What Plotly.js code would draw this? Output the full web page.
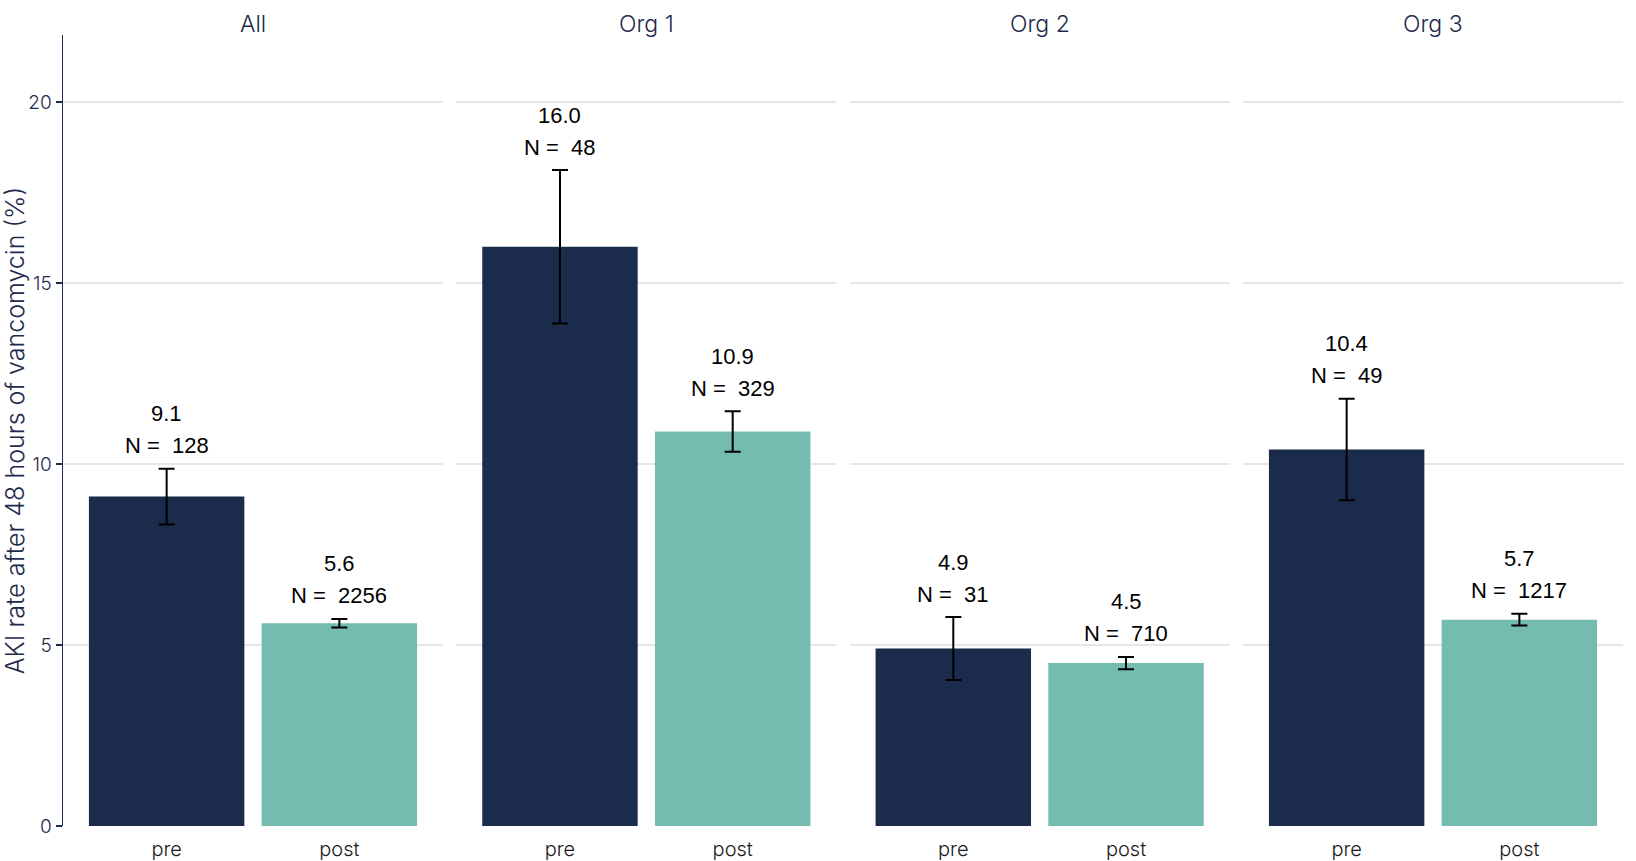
<!DOCTYPE html>
<html>
<head>
<meta charset="utf-8">
<script src="https://cdn.plot.ly/plotly-3.0.1.min.js"></script>
<style>
  html, body { margin: 0; padding: 0; background: #ffffff; }
  #chart { width: 1636px; height: 861px; }
</style>
</head>
<body>
<div id="chart"></div>
<script>
// AKI rate within 48 h of vancomycin, before and after, by organisation
const panels = ["All", "Org 1", "Org 2", "Org 3"];
const phases = ["pre", "post"];
const preRate = [9.1, 16.0, 4.9, 10.4];
const postRate = [5.6, 10.9, 4.5, 5.7];
const preErr = [0.77, 2.12, 0.87, 1.40];
const postErr = [0.12, 0.56, 0.17, 0.16];
const preN = [128, 48, 31, 49];
const postN = [2256, 329, 710, 1217];

const NAVY = "#1b2b4b";
const TEAL = "#74bbb0";
const INK = "#1d2b4c";
const GRID = "#e6e6e6";
const UI_FONT = "Inter, 'Open Sans', sans-serif";
const LABEL_FONT = "'Liberation Sans', Arial, sans-serif";

const yMax = 21.85;
const panelW = 380 / 1560;
const gap = (1 - 4 * panelW) / 3;

const traces = [];
const annotations = [];
const layout = {
  width: 1636,
  height: 861,
  margin: { l: 63, r: 13, t: 35, b: 34.5, pad: 0 },
  paper_bgcolor: "#ffffff",
  plot_bgcolor: "#ffffff",
  showlegend: false,
  bargap: 0.1,
  font: { family: UI_FONT, color: INK },
  annotations: annotations
};

panels.forEach((name, i) => {
  const sfx = i === 0 ? "" : String(i + 1);
  const x0 = i * (panelW + gap);
  const rates = [preRate[i], postRate[i]];
  const errs = [preErr[i], postErr[i]];
  const ns = [preN[i], postN[i]];

  traces.push({
    type: "bar",
    x: phases,
    y: rates,
    xaxis: "x" + sfx,
    yaxis: "y" + sfx,
    width: 0.9,
    marker: { color: [NAVY, TEAL], line: { width: 0 } },
    error_y: {
      type: "data",
      array: errs,
      visible: true,
      color: "#000000",
      thickness: 2,
      width: 8
    },
    hoverinfo: "skip"
  });

  layout["xaxis" + sfx] = {
    domain: [x0, x0 + panelW],
    anchor: "y" + sfx,
    type: "category",
    categoryorder: "array",
    categoryarray: phases,
    range: [-0.6, 1.6],
    showgrid: false,
    zeroline: false,
    showline: false,
    ticks: "outside",
    ticklen: 5,
    tickcolor: "rgba(0,0,0,0)",
    tickfont: { family: UI_FONT, size: 20, weight: 300, color: "#1a1a1a" },
    fixedrange: true
  };

  layout["yaxis" + sfx] = {
    domain: [0, 1],
    anchor: "x" + sfx,
    range: [0, yMax],
    tickvals: [0, 5, 10, 15, 20],
    showgrid: true,
    gridcolor: GRID,
    gridwidth: 1.5,
    zeroline: false,
    showline: i === 0,
    linecolor: INK,
    linewidth: 1.5,
    ticks: i === 0 ? "outside" : "",
    ticklen: 6,
    tickwidth: 1.5,
    tickcolor: INK,
    showticklabels: i === 0,
    tickfont: { family: UI_FONT, size: 19, weight: 300, color: INK },
    fixedrange: true
  };
  if (i > 0) layout["yaxis" + sfx].matches = "y";

  // facet title
  annotations.push({
    xref: "paper", yref: "paper",
    x: x0 + panelW / 2, y: 1,
    yshift: 11,
    xanchor: "center", yanchor: "middle",
    text: name,
    showarrow: false,
    font: { family: UI_FONT, size: 23, weight: 300, color: INK }
  });

  // value and count labels above each error bar
  phases.forEach((ph, j) => {
    const top = rates[j] + errs[j];
    annotations.push({
      xref: "x" + sfx, yref: "y" + sfx,
      x: ph, y: top,
      yshift: 55,
      xanchor: "center", yanchor: "middle",
      text: rates[j].toFixed(1),
      showarrow: false,
      font: { family: LABEL_FONT, size: 22, color: "#000000" }
    });
    annotations.push({
      xref: "x" + sfx, yref: "y" + sfx,
      x: ph, y: top,
      yshift: 23,
      xanchor: "center", yanchor: "middle",
      text: "N =\u00a0 " + ns[j],
      showarrow: false,
      font: { family: LABEL_FONT, size: 22, color: "#000000" }
    });
  });
});

layout.yaxis.title = {
  text: "AKI rate after 48 hours of vancomycin (%)",
  font: { family: UI_FONT, size: 25, weight: 300, color: INK },
  standoff: 6
};

Plotly.newPlot("chart", traces, layout, { displayModeBar: false, staticPlot: true });
</script>
</body>
</html>
